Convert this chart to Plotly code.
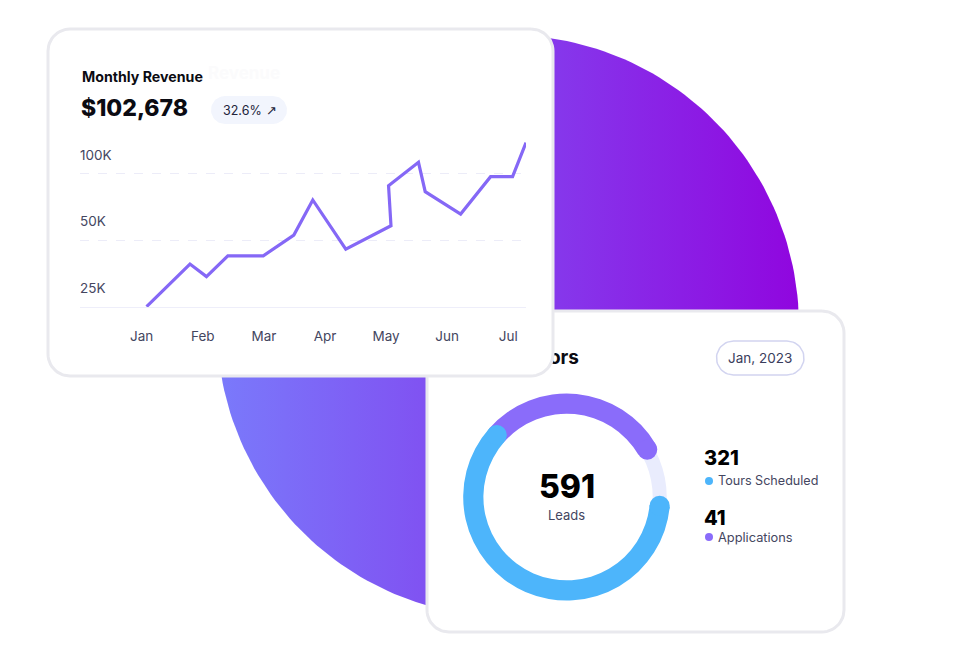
import numpy as np
import plotly.graph_objects as go

W, H = 958, 650

# ---------------- data ----------------
months = ["Jan", "Feb", "Mar", "Apr", "May", "Jun", "Jul"]
month_idx = [0, 1, 2, 3, 4, 5, 6]
revenue_pos = [0.08, 0.79, 1.06, 1.41, 1.99, 2.49, 2.80, 3.34, 4.08, 4.04, 4.53, 4.64, 5.22, 5.71, 6.07, 6.29]
revenue_k = [25.2, 39.2, 34.4, 42.7, 42.7, 53.0, 76.3, 45.8, 58.4, 88.5, 112.9, 83.2, 65.9, 97.2, 97.2, 138.4]
y_ticks_k = [25, 50, 100]
y_tick_labels = ["25K", "50K", "100K"]

donut_labels = ["Applications", "Other", "Tours Scheduled"]
donut_shares = [30, 10, 60]
donut_colors = ["#8a6cfa", "rgba(0,0,0,0)", "#4db5fb"]

legend_values = ["321", "41"]
legend_labels = ["Tours Scheduled", "Applications"]
legend_colors = ["#4db5fb", "#8a6cfa"]
leads_total = "591"
leads_label = "Leads"
revenue_title = "Monthly Revenue"
revenue_total = "$102,678"
growth = "32.6%"
period = "Jan, 2023"
card2_title = "Visitors"

FONT = "Inter"
DARK = "#0b0b12"
SLATE = "#44465f"

# ---------------- helpers (decoration geometry) ----------------
def rounded_rect(x0, y0, x1, y1, r, n=14):
    xs, ys = [], []
    corners = [(x1 - r, y0 + r, -90, 0), (x1 - r, y1 - r, 0, 90),
               (x0 + r, y1 - r, 90, 180), (x0 + r, y0 + r, 180, 270)]
    for cx, cy, a0, a1 in corners:
        for a in np.linspace(np.radians(a0), np.radians(a1), n):
            xs.append(cx + r * np.cos(a))
            ys.append(cy + r * np.sin(a))
    xs.append(xs[0]); ys.append(ys[0])
    return xs, ys

fig = go.Figure()

# big gradient circle
t = np.linspace(0, 2 * np.pi, 240)
ccx, ccy, cr = 508, 326, 291
fig.add_trace(go.Scatter(
    x=ccx + cr * np.cos(t), y=ccy + cr * np.sin(t), mode="lines",
    fill="toself", line=dict(width=0, color="rgba(0,0,0,0)"),
    fillgradient=dict(type="horizontal",
                      colorscale=[[0, "#7a7afb"], [0.35, "#8053f2"], [1, "#9006df"]]),
    hoverinfo="skip", showlegend=False, xaxis="x", yaxis="y"))

# card 2
xs, ys = rounded_rect(427, 311, 844, 632, 22)
fig.add_trace(go.Scatter(x=xs, y=ys, mode="lines", fill="toself", fillcolor="white",
                         line=dict(color="#e9e9ee", width=3), hoverinfo="skip",
                         showlegend=False, xaxis="x", yaxis="y"))
# card 2 title (partly hidden under card 1)
fig.add_trace(go.Scatter(x=[579], y=[359], mode="text", text=[card2_title],
                         textposition="middle left",
                         textfont=dict(family=FONT, size=19, color=DARK, weight=700),
                         hoverinfo="skip", showlegend=False, xaxis="x", yaxis="y"))
# period pill
xs, ys = rounded_rect(716.5, 341, 804, 375, 17)
fig.add_trace(go.Scatter(x=xs, y=ys, mode="lines", fill="toself", fillcolor="white",
                         line=dict(color="#d2d4f0", width=1.5), hoverinfo="skip",
                         showlegend=False, xaxis="x", yaxis="y"))

# card 1
xs, ys = rounded_rect(48, 29, 553, 376, 22)
fig.add_trace(go.Scatter(x=xs, y=ys, mode="lines", fill="toself", fillcolor="white",
                         line=dict(color="#e9e9ee", width=3), hoverinfo="skip",
                         showlegend=False, xaxis="x", yaxis="y"))
# growth pill
xs, ys = rounded_rect(211, 96, 287, 124, 14)
fig.add_trace(go.Scatter(x=xs, y=ys, mode="lines", fill="toself", fillcolor="#f2f5fd",
                         line=dict(width=0, color="rgba(0,0,0,0)"), hoverinfo="skip",
                         showlegend=False, xaxis="x", yaxis="y"))

# revenue line (own axes)
fig.add_trace(go.Scatter(
    x=revenue_pos, y=[v * 1000 for v in revenue_k], mode="lines",
    line=dict(color="#8568f6", width=3.2), cliponaxis=False,
    hoverinfo="skip", showlegend=False, xaxis="x2", yaxis="y2"))

# donut: thin track + coloured arcs
cx_d, cy_d, R_out = 566.7, 497.0, 103.5
R_track = 100.0
def pie_domain(R):
    return dict(x=[(cx_d - R) / W, (cx_d + R) / W], y=[1 - (cy_d + R) / H, 1 - (cy_d - R) / H])

fig.add_trace(go.Pie(values=[1], labels=["track"], hole=86 / R_track, sort=False,
                     marker=dict(colors=["#e9ecfd"], line=dict(width=0)),
                     textinfo="none", hoverinfo="skip", showlegend=False,
                     domain=pie_domain(R_track)))
rot = -48.5
fig.add_trace(go.Pie(values=donut_shares, labels=donut_labels, hole=83.3 / R_out,
                     sort=False, direction="clockwise", rotation=rot,
                     marker=dict(colors=donut_colors, line=dict(width=0)),
                     textinfo="none", hoverinfo="skip", showlegend=False,
                     domain=pie_domain(R_out)))

# rounded caps of the arcs
total = sum(donut_shares)
b1 = rot + 360 * donut_shares[0] / total
b2 = b1 + 360 * donut_shares[1] / total
b3 = rot
R_mid, cap = (R_out + 83.3) / 2, (R_out - 83.3) / 2
shapes = []
for ang, col in [(b1, donut_colors[0]), (b2, donut_colors[2]), (b3, donut_colors[2])]:
    px = cx_d + R_mid * np.sin(np.radians(ang))
    py = cy_d - R_mid * np.cos(np.radians(ang))
    shapes.append(dict(type="circle", xref="x", yref="y", layer="above",
                       x0=px - cap, x1=px + cap, y0=py - cap, y1=py + cap,
                       fillcolor=col, line=dict(width=0)))

# legend dots
for yy, col in zip([481, 537], legend_colors):
    shapes.append(dict(type="circle", xref="x", yref="y", layer="above",
                       x0=705, x1=713, y0=yy - 4, y1=yy + 4,
                       fillcolor=col, line=dict(width=0)))

ann = []
def A(x, y, text, size, color, weight=400, xanchor="left", family=FONT):
    ann.append(dict(x=x, y=y, xref="x", yref="y", text=text, showarrow=False,
                    xanchor=xanchor, yanchor="middle",
                    font=dict(family=family, size=size, color=color, weight=weight)))

A(206, 73, "Revenue", 17, "#fbfbfc", 700)
A(80, 76, revenue_title, 14.2, DARK, 700)
A(79, 108, revenue_total, 23, DARK, 800)
A(221, 110, growth, 12.5, "#22243a")
A(271, 110, "↗", 13, "#22243a", xanchor="center", family="DejaVu Sans")
A(760, 358, period, 13.5, "#3a3d5c", xanchor="center")
A(566.5, 486, leads_total, 32, "#000000", 800, xanchor="center")
A(566.5, 515, leads_label, 13, SLATE, xanchor="center")
A(702, 458, legend_values[0], 20, "#000000", 800)
A(716, 480, legend_labels[0], 12.6, SLATE)
A(702, 518, legend_values[1], 20, "#000000", 800)
A(716, 537, legend_labels[1], 12.8, SLATE)

# line-chart plot area in pixels
px0, px1 = 80, 526
py_top, py_bot = 140, 307.3
x_left = (px0 - 141.7) / 61.1
x_right = (px1 - 141.7) / 61.1
grid = "#ececf8"

fig.update_layout(
    width=W, height=H, margin=dict(l=0, r=0, t=0, b=0),
    paper_bgcolor="white", plot_bgcolor="rgba(0,0,0,0)",
    hovermode=False, showlegend=False,
    xaxis=dict(range=[0, W], domain=[0, 1], visible=False, fixedrange=True),
    yaxis=dict(range=[H, 0], domain=[0, 1], visible=False, fixedrange=True),
    xaxis2=dict(range=[x_left, x_right], domain=[px0 / W, px1 / W], anchor="y2",
                tickvals=month_idx, ticktext=months, showgrid=False, zeroline=False,
                showline=True, linecolor="#eeeefa", linewidth=1.2, ticks="",
                ticklabelstandoff=16,
                tickfont=dict(family=FONT, size=13.5, color=SLATE), fixedrange=True),
    yaxis2=dict(type="log", range=[np.log10(25000), np.log10(142350)],
                domain=[1 - py_bot / H, 1 - py_top / H], anchor="x2",
                tickvals=[v * 1000 for v in y_ticks_k], ticktext=y_tick_labels,
                showgrid=True, gridcolor=grid, griddash="dash", gridwidth=1,
                zeroline=False, showline=False, ticks="",
                ticklabelposition="inside", ticklabelshift=-19, ticklabelstandoff=-3,
                tickfont=dict(family=FONT, size=13.5, color=SLATE), fixedrange=True),
    shapes=shapes, annotations=ann,
)

fig.write_html("out.html")
